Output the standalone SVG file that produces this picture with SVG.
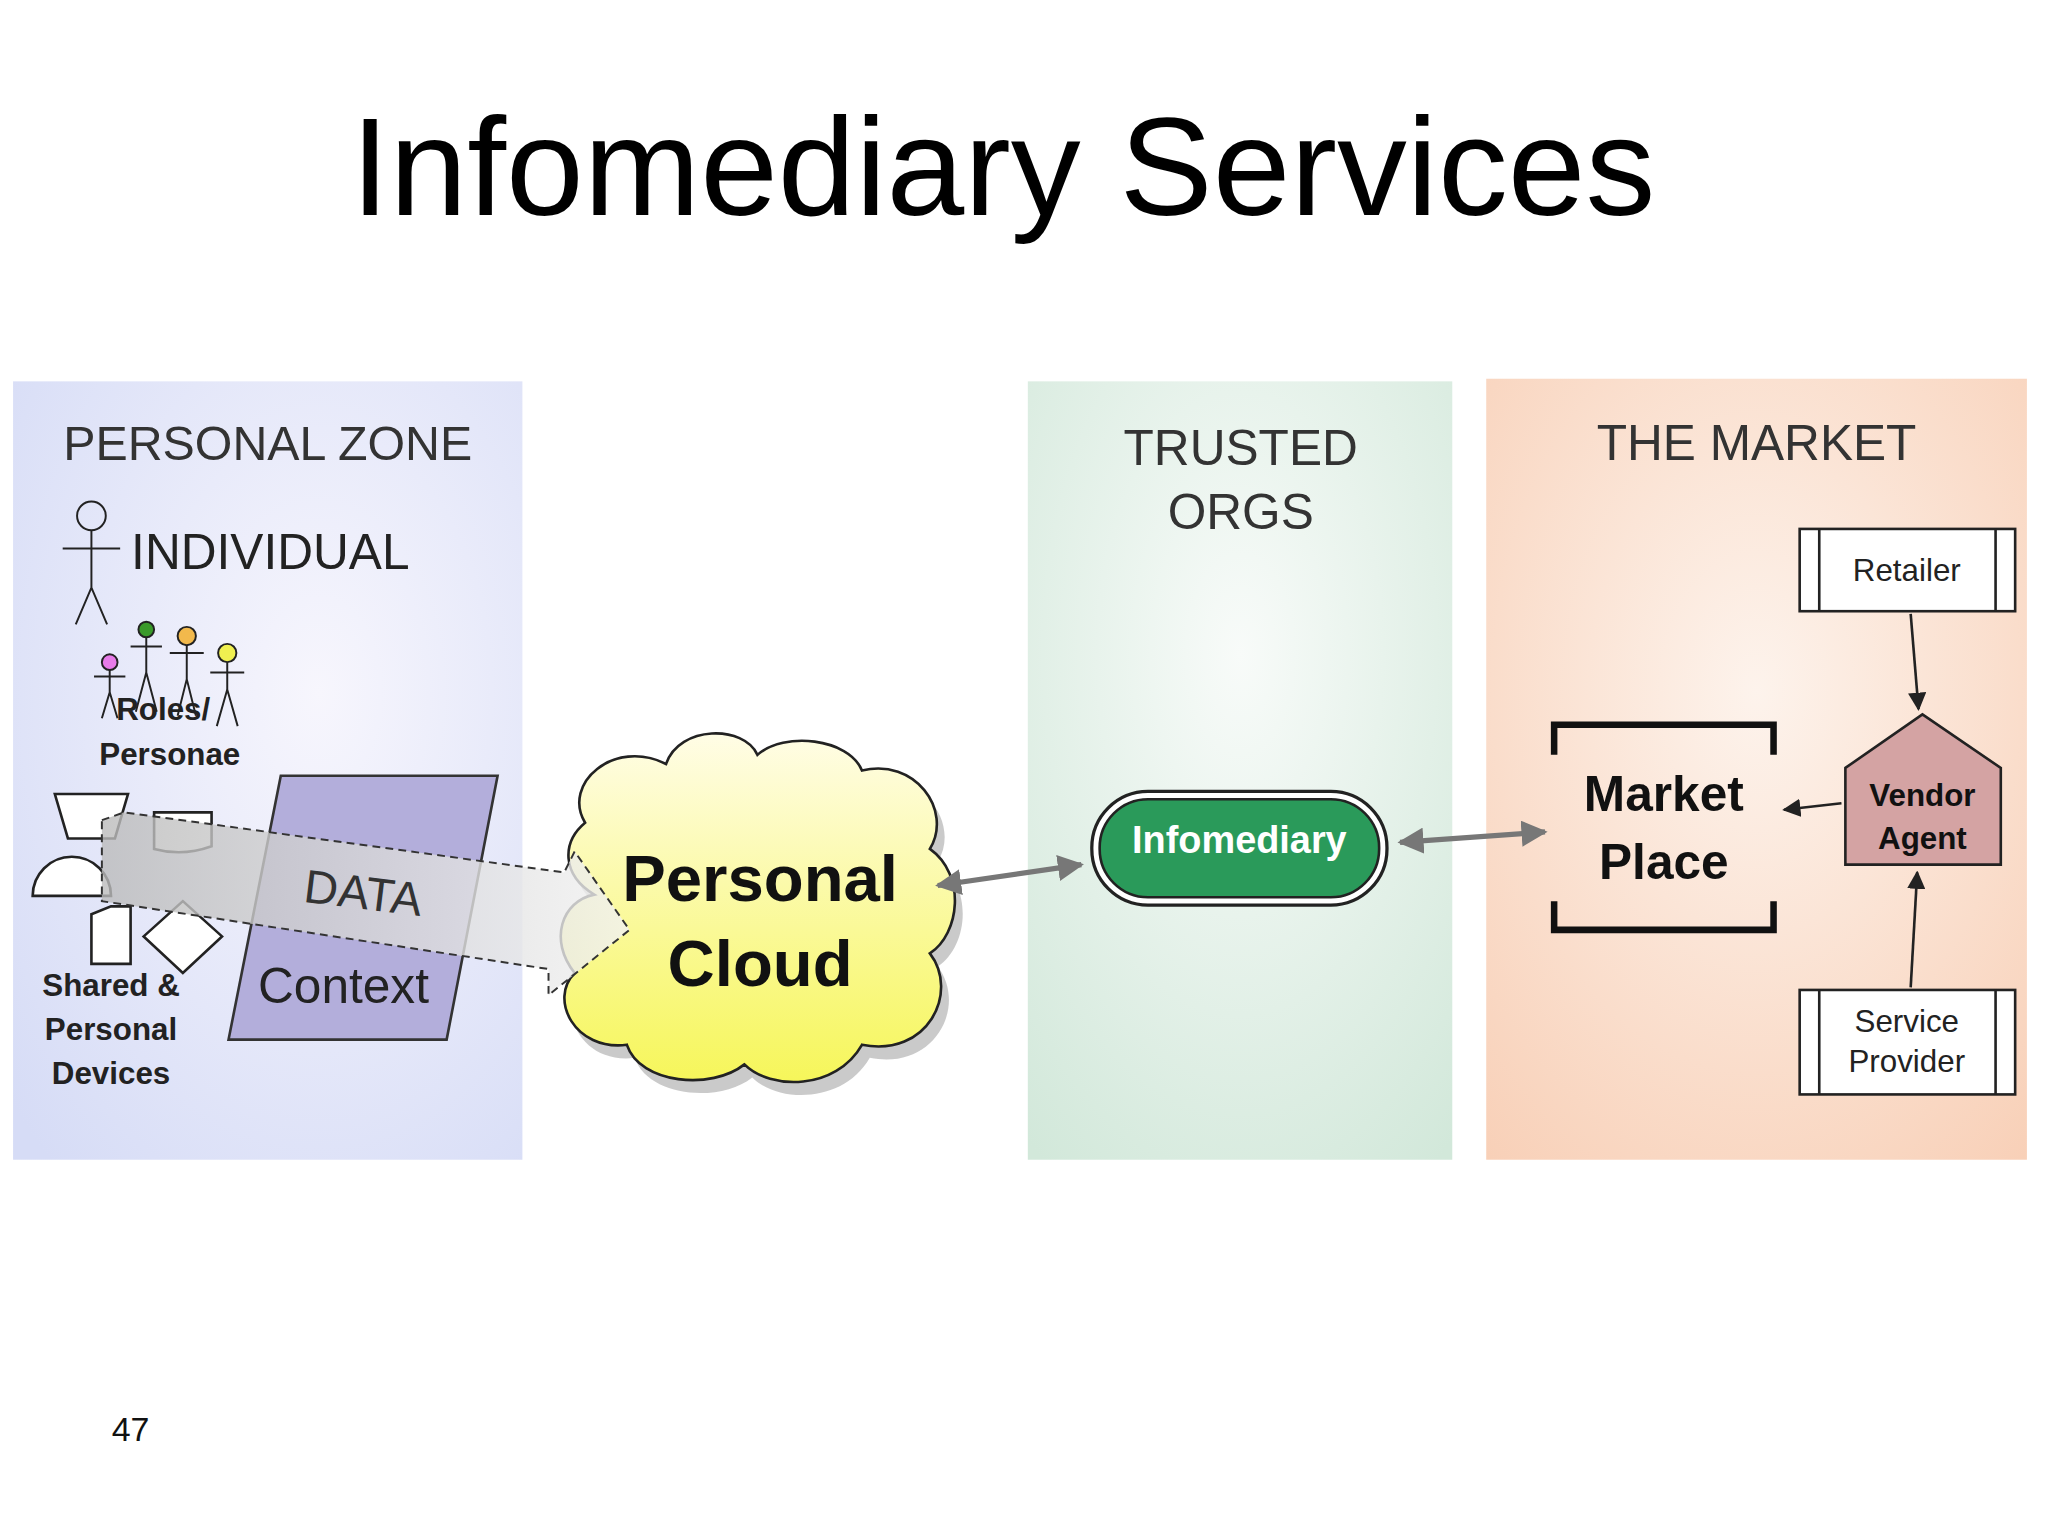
<svg xmlns="http://www.w3.org/2000/svg" width="2048" height="1536" viewBox="0 0 2048 1536">
<defs>
<style>
.t{font-family:"Liberation Sans",Arial,sans-serif;text-anchor:middle}
.b{font-weight:bold}
.fig{fill:none;stroke:#222;stroke-width:1.5}
.box{fill:#fff;stroke:#222;stroke-width:2}
.con{stroke:#222;stroke-width:2;fill:none}
.gcon{stroke:#777;stroke-width:4;fill:none}
</style>
<radialGradient id="gp" cx="0.6" cy="0.4" r="0.8"><stop offset="0" stop-color="#f7f6fd"/><stop offset="1" stop-color="#d6dcf6"/></radialGradient>
<radialGradient id="gt" cx="0.5" cy="0.35" r="0.8"><stop offset="0" stop-color="#f8fbf9"/><stop offset="1" stop-color="#d2e8da"/></radialGradient>
<radialGradient id="gm" cx="0.5" cy="0.4" r="0.8"><stop offset="0" stop-color="#fdf3ec"/><stop offset="1" stop-color="#f8cfb6"/></radialGradient>
<linearGradient id="gc" x1="0" y1="0" x2="0" y2="1"><stop offset="0" stop-color="#fffde6"/><stop offset="1" stop-color="#f6f65a"/></linearGradient>
<linearGradient id="ga" x1="0" y1="0" x2="1" y2="0"><stop offset="0" stop-color="#bbbbbb"/><stop offset="1" stop-color="#f2f2f2"/></linearGradient>
<marker id="ah" viewBox="0 0 10 10" refX="9" refY="5" markerWidth="7" markerHeight="7" orient="auto-start-reverse"><path d="M0,0 L10,5 L0,10 z" fill="#222"/></marker>
<marker id="gh" viewBox="0 0 10 10" refX="9" refY="5" markerWidth="5" markerHeight="5" orient="auto-start-reverse"><path d="M0,0 L10,5 L0,10 z" fill="#777"/></marker>
</defs>
<rect width="2048" height="1536" fill="#fff"/>
<g transform="scale(1.306)">
<text class="t" x="768" y="165" font-size="107">Infomediary Services</text>
<g id="personal-zone">
<rect x="10" y="292" width="390" height="596" fill="url(#gp)"/>
<text class="t" x="205" y="352" font-size="37" fill="#333">PERSONAL ZONE</text>
</g>
<g id="trusted-orgs">
<rect x="787" y="292" width="325" height="596" fill="url(#gt)"/>
<text class="t" x="950" y="356" font-size="38" fill="#333">TRUSTED</text>
<text class="t" x="950" y="405" font-size="38" fill="#333">ORGS</text>
</g>
<g id="the-market">
<rect x="1138" y="290" width="414" height="598" fill="url(#gm)"/>
<text class="t" x="1345" y="352" font-size="38" fill="#333">THE MARKET</text>
</g>
<g id="individual">
<circle cx="70" cy="395" r="11" class="fig" fill="#fff"/>
<path class="fig" d="M70,406 V450 M48,420 H92 M70,450 L58,478 M70,450 L82,478"/>
<text class="t" x="207" y="436" font-size="38" fill="#222">INDIVIDUAL</text>
</g>
<g id="roles">
<g class="fig"><circle cx="84" cy="507" r="6" fill="#e77be8"/><path d="M84,513V530M72,518H96M84,530L78,550M84,530L90,550"/></g>
<g class="fig"><circle cx="112" cy="482" r="6" fill="#3a9a2a"/><path d="M112,488V515M100,495H124M112,515L104,545M112,515L120,545"/></g>
<g class="fig"><circle cx="143" cy="487" r="7" fill="#f2b94c"/><path d="M143,494V520M130,500H156M143,520L136,548M143,520L150,548"/></g>
<g class="fig"><circle cx="174" cy="500" r="7" fill="#f0f050"/><path d="M174,507V528M161,515H187M174,528L166,556M174,528L182,556"/></g>
<text class="t b" x="125" y="551" font-size="24" fill="#222">Roles/</text>
<text class="t b" x="130" y="586" font-size="24" fill="#222">Personae</text>
</g>
<g id="devices">
<path class="box" d="M42,608 H98 L88,642 H52 Z"/>
<path class="box" d="M118,622 H162 V648 Q140,656 118,650 Z"/>
<path class="box" d="M25,686 A30,30 0 0 1 85,686 Z"/>
<path class="box" d="M70,700 L85,694 H100 V738 H70 Z"/>
<path class="box" d="M140,690 L170,717 L140,745 L110,717 Z"/>
<text class="t b" x="85" y="763" font-size="24" fill="#222">Shared &amp;</text>
<text class="t b" x="85" y="796" font-size="24" fill="#222">Personal</text>
<text class="t b" x="85" y="830" font-size="24" fill="#222">Devices</text>
</g>
<g id="context">
<path d="M215,594 H381 L342,796 H175 Z" fill="#b3aedb" stroke="#333" stroke-width="2"/>
<text class="t" x="263" y="768" font-size="38" fill="#222">Context</text>
</g>
<g id="personal-cloud">
<path d="M448,630 C430,600 470,565 510,585 C520,555 570,555 580,578 C600,560 650,565 660,590 C700,580 730,620 712,650 C740,670 735,715 712,730 C735,760 710,810 660,800 C640,835 590,835 570,815 C545,835 490,830 480,800 C440,805 420,765 440,745 C420,720 430,690 455,685 C430,670 430,645 448,630 Z" fill="#666" opacity="0.35" transform="translate(6,10)"/>
<path d="M448,630 C430,600 470,565 510,585 C520,555 570,555 580,578 C600,560 650,565 660,590 C700,580 730,620 712,650 C740,670 735,715 712,730 C735,760 710,810 660,800 C640,835 590,835 570,815 C545,835 490,830 480,800 C440,805 420,765 440,745 C420,720 430,690 455,685 C430,670 430,645 448,630 Z" fill="url(#gc)" stroke="#222" stroke-width="2"/>
<text class="t b" x="582" y="690" font-size="50" fill="#111">Personal</text>
<text class="t b" x="582" y="755" font-size="50" fill="#111">Cloud</text>
</g>
<g id="data-arrow">
<path d="M78,628 L95,622 L432,668 L440,652 L482,712 L420,762 L420,742 L78,690 Z" fill="url(#ga)" fill-opacity="0.8" stroke="#333" stroke-width="1.5" stroke-dasharray="6,4"/>
<text class="t" x="278" y="696" font-size="36" fill="#333" transform="rotate(7 278 685)">DATA</text>
</g>
<g id="infomediary">
<rect x="836" y="606" width="226" height="87" rx="43" fill="#fff" stroke="#222" stroke-width="2.5"/>
<rect x="842" y="612" width="214" height="75" rx="37" fill="#2a9a5a" stroke="#222" stroke-width="2"/>
<text class="t b" x="949" y="653" font-size="29" fill="#fff">Infomediary</text>
</g>
<g id="market-place">
<path style="stroke:#111;stroke-width:5;fill:none" d="M1190,578 V555 H1358 V578 M1190,690 V712 H1358 V690"/>
<text class="t b" x="1274" y="621" font-size="38" fill="#111">Market</text>
<text class="t b" x="1274" y="673" font-size="38" fill="#111">Place</text>
</g>
<g id="vendor-agent">
<path d="M1413,588 L1472,547 L1532,588 V662 H1413 Z" fill="#d4a3a3" stroke="#222" stroke-width="2"/>
<text class="t b" x="1472" y="617" font-size="24" fill="#111">Vendor</text>
<text class="t b" x="1472" y="650" font-size="24" fill="#111">Agent</text>
</g>
<g id="retailer">
<rect class="box" x="1378" y="405" width="165" height="63"/>
<path class="con" d="M1393,405V468M1528,405V468"/>
<text class="t" x="1460" y="445" font-size="24" fill="#222">Retailer</text>
</g>
<g id="service-provider">
<rect class="box" x="1378" y="758" width="165" height="80"/>
<path class="con" d="M1393,758V838M1528,758V838"/>
<text class="t" x="1460" y="790" font-size="24" fill="#222">Service</text>
<text class="t" x="1460" y="821" font-size="24" fill="#222">Provider</text>
</g>
<g id="connectors">
<path class="gcon" d="M718,678 L828,662" marker-start="url(#gh)" marker-end="url(#gh)"/>
<path class="gcon" d="M1072,645 L1183,637" marker-start="url(#gh)" marker-end="url(#gh)"/>
<path class="con" d="M1463,470 L1469,543" marker-end="url(#ah)"/>
<path class="con" d="M1463,756 L1468,668" marker-end="url(#ah)"/>
<path class="con" d="M1410,615 L1366,620" marker-end="url(#ah)"/>
</g>
<text x="100" y="1103" class="t" font-size="26" fill="#111">47</text>
</g>
</svg>
